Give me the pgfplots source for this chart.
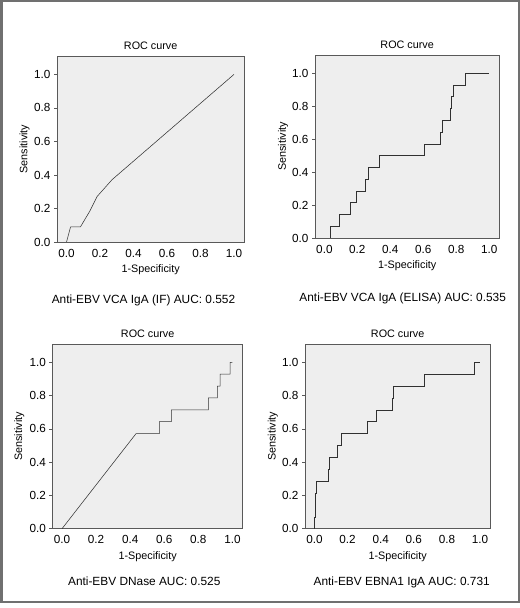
\documentclass[border=0pt]{standalone}
\usepackage{fontspec}
\setmainfont{Liberation Sans}
\usepackage{pgfplots}
\pgfplotsset{compat=1.18}
\definecolor{bg}{HTML}{EEEEEE}
\definecolor{framec}{HTML}{707070}
\definecolor{curvec}{HTML}{303030}
\newcommand{\lab}{\fontsize{8.1}{9.5}\selectfont}
\newcommand{\tlab}{\fontsize{8.8}{10}\selectfont}
\newcommand{\clab}{\fontsize{8.9}{11}\selectfont}
\pgfplotsset{rocstyle/.style={
  scale only axis,
  xmin=-0.055, xmax=1.06, ymin=0, ymax=1.11,
  axis background/.style={fill=bg},
  axis line style={draw=black!65, line width=0.6pt},
  xtick={0,0.2,0.4,0.6,0.8,1.0},
  ytick={0,0.2,0.4,0.6,0.8,1.0},
  tick align=outside,
  major tick length=2.4pt,
  tick style={draw=black!65, line width=0.5pt},
  xtick style={draw=none},
  xtick pos=bottom, ytick pos=left,
  /pgf/number format/assume math mode=true,
  /pgf/number format/fixed, /pgf/number format/fixed zerofill, /pgf/number format/precision=1,
  tick label style={font=\tlab},
  xticklabel style={yshift=0.8pt},
  yticklabel style={xshift=0.8pt},
  title={ROC curve},
  xlabel={1-Specificity},
  ylabel={Sensitivity},
  every axis title/.style={at={(axis description cs:0.5,1)}, anchor=center, yshift=7.5pt, font=\lab},
  every axis x label/.style={at={(axis description cs:0.5,-0.15)}, anchor=center, font=\lab},
  every axis y label/.style={at={(axis description cs:-0.176,0.5)}, anchor=center, rotate=90, font=\lab},
  cycle list={{curvec, line width=0.85pt, mark=none, line join=miter}},
}}
\begin{document}
\begin{tikzpicture}
\path[use as bounding box] (0,0) rectangle (390pt,456pt);
\draw[framec, line width=1.6pt] (1.1pt,4.6pt) rectangle (389pt,455.2pt);

% Panel 1
\begin{axis}[rocstyle, at={(43pt,274.5pt)}, anchor=south west, width=140pt, height=139.5pt]
\addplot coordinates {(0,0) (0.024,0.09) (0.083,0.09) (0.14,0.186) (0.183,0.272) (0.272,0.372) (1,1)};
\end{axis}
\node[font=\clab] at (107.6pt,231pt) {Anti-EBV VCA IgA (IF) AUC: 0.552};

% Panel 2
\begin{axis}[rocstyle, at={(236.5pt,277.5pt)}, anchor=south west, width=137.8pt, height=137.3pt]
\addplot coordinates {(0.037,0) (0.037,0.071) (0.091,0.071) (0.091,0.143) (0.154,0.143) (0.154,0.214) (0.193,0.214) (0.193,0.286) (0.25,0.286) (0.25,0.357) (0.268,0.357) (0.268,0.429) (0.335,0.429) (0.335,0.5) (0.604,0.5) (0.604,0.571) (0.706,0.571) (0.706,0.643) (0.716,0.643) (0.716,0.714) (0.761,0.714) (0.761,0.786) (0.771,0.786) (0.771,0.857) (0.781,0.857) (0.781,0.929) (0.856,0.929) (0.856,1) (1,1)};
\end{axis}
\node[font=\clab] at (302pt,232.3pt) {Anti-EBV VCA IgA (ELISA) AUC: 0.535};

% Panel 3
\begin{axis}[rocstyle, at={(39.5pt,59.5pt)}, anchor=south west, width=142.5pt, height=138.5pt]
\addplot coordinates {(0,0) (0.434,0.571) (0.571,0.571) (0.571,0.643) (0.642,0.643) (0.642,0.714) (0.859,0.714) (0.859,0.786) (0.912,0.786) (0.912,0.857) (0.928,0.857) (0.928,0.929) (0.986,0.929) (0.986,1) (1,1)};
\end{axis}
\node[font=\clab] at (108.2pt,19.7pt) {Anti-EBV DNase AUC: 0.525};

% Panel 4
\begin{axis}[rocstyle, at={(229pt,59.5pt)}, anchor=south west, width=138.5pt, height=138.5pt]
\addplot coordinates {(0,0) (0,0.071) (0.004,0.071) (0.004,0.214) (0.01,0.214) (0.01,0.286) (0.086,0.286) (0.086,0.357) (0.09,0.357) (0.09,0.429) (0.14,0.429) (0.14,0.5) (0.162,0.5) (0.162,0.571) (0.316,0.571) (0.316,0.643) (0.376,0.643) (0.376,0.714) (0.472,0.714) (0.472,0.786) (0.478,0.786) (0.478,0.857) (0.662,0.857) (0.662,0.929) (0.962,0.929) (0.962,1) (1,1)};
\end{axis}
\node[font=\clab] at (301.3pt,19pt) {Anti-EBV EBNA1 IgA AUC: 0.731};
\end{tikzpicture}
\end{document}
